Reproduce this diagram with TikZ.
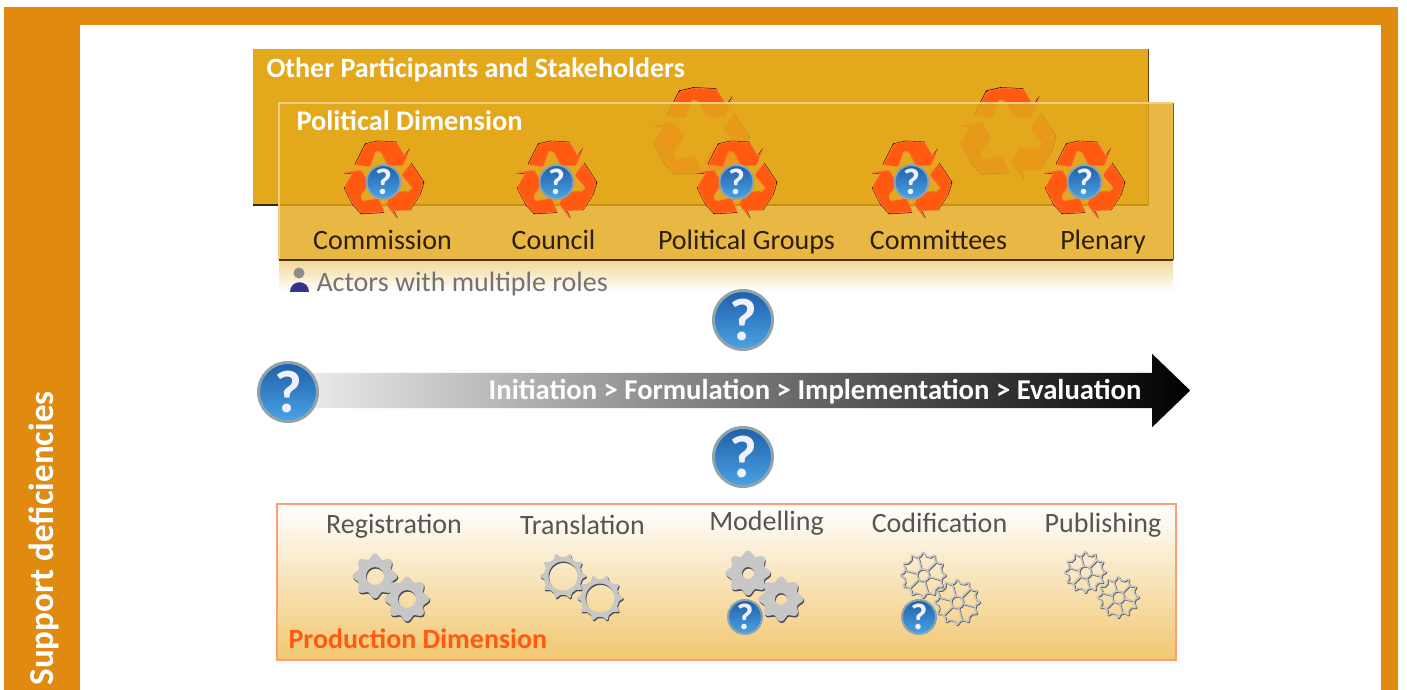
\documentclass[tikz,border=0pt]{standalone}
\usepackage{fontspec}
\setmainfont{Carlito}
\usepackage{tikz}
\usetikzlibrary{shapes,arrows}

\definecolor{framecol}{HTML}{E08A10}
\definecolor{goldcol}{HTML}{E3A81C}
\definecolor{redcol}{HTML}{FF5A10}
\definecolor{darkcol}{HTML}{2E1E08}
\definecolor{greycol}{HTML}{555555}
\definecolor{ballcol}{HTML}{8FA3AD}
\definecolor{balltop}{HTML}{1F5FA8}
\definecolor{ballbottom}{HTML}{4AA3E6}
\definecolor{sandcol}{HTML}{F1C770}

\newcommand{\recyclearrow}{(-30,16) -- (-19,38) -- (-6,41) -- (14,40) -- (23,25) -- (28.5,33) -- (21,15) -- (5,15) -- (-2,29) -- (-8,31) -- (-14,14) -- cycle}
\newcommand{\gearplot}[3]{plot[smooth cycle, samples=121, domain=0:357] (\x:{#1+#2*cos(#3*\x)})}
\newcommand{\toothplot}[3]{plot[samples=241, domain=0:358.5] (\x:{#1+#2*pow(cos(#3*\x/2),6)}) -- cycle}

\tikzset{
	pics/recycle/.style = {code = {
		\begin{scope}[yscale=-1]
			\foreach \r in {0,120,240} {
				\fill [rotate=\r, shift={(-0.6,0.8)}, black!75!red] \recyclearrow;
				\fill [rotate=\r, redcol, draw=redcol!75!white, line width=0.6pt, rounded corners=1.5pt] \recyclearrow;
			}
		\end{scope}
	}},
	pics/gear/.style n args = {3}{code = {
		\fill [even odd rule, black!70, shift={(0.8,1.6)}] \gearplot{#1}{2.4}{#3} (0,0) circle [radius=#2];
		\fill [even odd rule, black!22] \gearplot{#1}{2.4}{#3} (0,0) circle [radius=#2];
	}},
	pics/ring/.style n args = {3}{code = {
		\fill [even odd rule, black!70, shift={(0.8,1.4)}] \toothplot{#1}{4}{#3} (0,0) circle [radius=#2];
		\fill [even odd rule, black!22] \toothplot{#1}{4}{#3} (0,0) circle [radius=#2];
	}},
	pics/wheel/.style n args = {2}{code = {
		\foreach \col/\dx in {black!65/0.8, black!22/0} {
			\begin{scope}[shift={(\dx,\dx)}]
				\draw [\col, line width=1.5pt] \toothplot{#1-3}{3.5}{#2};
				\draw [\col, line width=1.5pt] (0,0) circle [radius=6];
				\foreach \a in {15,75,...,315} {
					\draw [\col, line width=1.5pt] (\a:6) -- (\a:#1-3);
				}
			\end{scope}
		}
	}}
}

\begin{document}
\begin{tikzpicture}
	[
	x = 1pt, y = -1pt,
	dimbox/.style = {rectangle, inner sep = 0pt, outer sep = 0pt},
	bigball/.style = {circle, inner sep = 0pt, minimum size = 59pt, draw = ballcol, line width = 3pt,
		top color = balltop, bottom color = ballbottom, text = blue!6,
		font = \fontsize{60}{60}\selectfont\bfseries},
	smallball/.style = {circle, inner sep = 0pt, minimum size = 34pt, draw = ballcol, line width = 2pt,
		top color = balltop, bottom color = ballbottom, text = blue!6,
		font = \fontsize{37}{37}\selectfont\bfseries},
	actorname/.style = {anchor = base, text = darkcol, font = \fontsize{28}{28}\selectfont},
	stepname/.style = {anchor = base, text = greycol, font = \fontsize{28}{28}\selectfont}
	]

	\useasboundingbox (0,0) rectangle (1407,690);
	\fill [white] (0,0) rectangle (1407,690);
	\fill [framecol] (4,7) rectangle (1398,690);
	\fill [white] (80,25) rectangle (1381,690);

	\node [anchor = base west, rotate = 90, text = white, font = \fontsize{35}{35}\selectfont\bfseries] (supportlabel) at (53,689) {Support deficiencies};

	\node [dimbox, minimum width = 894pt, minimum height = 30pt, top color = goldcol!45!white, bottom color = white] (roleshade) at (726,276) {};

	\node [dimbox, fill = goldcol, minimum width = 895pt, minimum height = 156pt] (participants) at (700.5,127) {};
	\draw [black!60!goldcol, line width = 1pt] (participants.north east) -- (participants.south east);
	\draw [black!75!goldcol, line width = 1.5pt] (participants.south west) -- (participants.south east);
	\node [anchor = base west, text = white, font = \fontsize{28}{28}\selectfont\bfseries] (participantslabel) at (263,78) {Other Participants and Stakeholders};

	\pic [scale = 1.12] at (701,134) {recycle};
	\pic [scale = 1.12] at (1008,134) {recycle};

	\node [dimbox, fill = goldcol, fill opacity = 0.82, minimum width = 894pt, minimum height = 157pt] (political) at (726,181.5) {};
	\draw [goldcol!55!white, line width = 1.5pt] (political.south west) -- (political.north west) -- (political.north east);
	\draw [black!45!goldcol, line width = 1pt] (political.north east) -- (political.south east);
	\draw [black!70!goldcol, line width = 2pt] (political.south west) -- (political.south east);
	\node [anchor = base west, text = white, font = \fontsize{28.4}{28.4}\selectfont\bfseries] (politicallabel) at (293,131) {Political Dimension};

	\foreach \name/\px in {commission/383.5, council/556.5, groups/736.5, committees/911.5, plenary/1084.5} {
		\pic [scale = 0.94] at (\px,180) {recycle};
		\node [smallball] (\name ball) at (\px,182) {?};
	}

	\node [actorname] (commission) at (382.5,249) {Commission};
	\node [actorname] (council) at (553.5,249) {Council};
	\node [actorname] (groups) at (746.5,249) {Political Groups};
	\node [actorname] (committees) at (938.5,249) {Committees};
	\node [actorname] (plenary) at (1103,249) {Plenary};

	\fill [black!45] (299,273) circle [radius=5.5];
	\fill [blue!45!black!80] (290,292) .. controls (290,279) and (309,279) .. (309,292) -- cycle;
	\node [anchor = base west, text = black!55, font = \fontsize{28}{28}\selectfont] (roleslabel) at (313,291) {Actors with multiple roles};

	\node [bigball] (upperball) at (743,320) {?};

	\node [single arrow, inner xsep = 0pt, inner ysep = 17.5pt, outer sep = 0pt, minimum height = 880pt,
		single arrow head extend = 19pt, single arrow tip angle = 88,
		left color = black!8, middle color = black!55, right color = black] (cycle) at (741,390.5) {};
	\node [bigball] (leftball) at (288,392) {?};
	\node [anchor = base, text = white, font = \fontsize{28.7}{28.7}\selectfont\bfseries] (cyclelabel) at (815,399) {Initiation > Formulation > Implementation > Evaluation};

	\node [bigball] (lowerball) at (743,457) {?};

	\node [dimbox, draw = orange!60!red!55, line width = 1.5pt, top color = white, bottom color = sandcol, minimum width = 899pt, minimum height = 156pt] (production) at (726.5,582) {};

	\node [stepname] (registration) at (394,533) {Registration};
	\node [stepname] (translation) at (582.5,534) {Translation};
	\node [stepname] (modelling) at (766.5,530) {Modelling};
	\node [stepname] (codification) at (939.5,532) {Codification};
	\node [stepname] (publishing) at (1103,532) {Publishing};

	\pic at (375,576) {gear={20}{9}{8}};
	\pic at (407,599) {gear={20}{9}{8}};
	\pic at (563,576) {ring={19}{14.5}{10}};
	\pic at (600,598) {ring={19}{14.5}{10}};
	\pic at (748,573) {gear={20}{6}{8}};
	\pic at (781,599) {gear={20}{6}{8}};
	\pic at (923,575) {wheel={22}{12}};
	\pic at (957,602) {wheel={22}{12}};
	\pic at (1085,572) {wheel={20}{12}};
	\pic at (1118,597) {wheel={20}{12}};

	\node [smallball] (modellingball) at (745,617) {?};
	\node [smallball] (codificationball) at (919,617) {?};

	\node [anchor = base west, text = redcol, font = \fontsize{28}{28}\selectfont\bfseries] (productionlabel) at (285,648) {Production Dimension};
\end{tikzpicture}
\end{document}
